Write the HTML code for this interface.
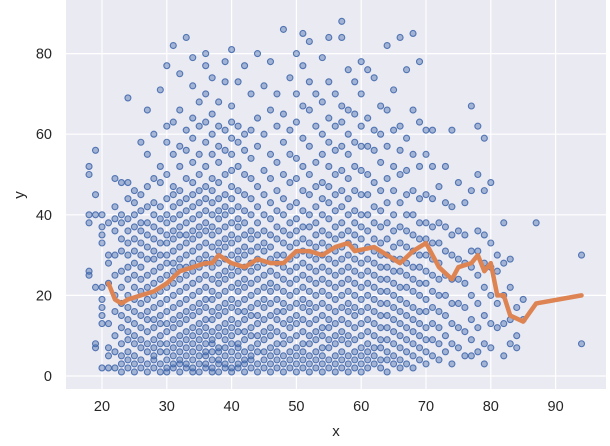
<!DOCTYPE html>
<html><head><meta charset="utf-8"><style>
body{margin:0;background:#fff;width:610px;height:441px;overflow:hidden;font-family:"Liberation Sans",Arial,sans-serif}
svg text{font-family:"Liberation Sans",Arial,sans-serif;fill:#262626}
</style></head><body>
<svg id="chart" width="610" height="441" xmlns="http://www.w3.org/2000/svg">
<rect x="66" y="0" width="540" height="389" fill="#eaeaf2"/>
<g id="grid"></g>
<g id="ticks"></g>
<g id="points"></g>
<g id="line"></g>
<text x="336" y="436" text-anchor="middle" font-size="15">x</text>
<text x="24" y="195" text-anchor="middle" font-size="15" transform="rotate(-90 24 195)">y</text>
</svg>
<script>
const xTicks=[20,30,40,50,60,70,80,90];
const yTicks=[0,20,40,60,80];
const ages=[18,19,20,21,22,23,24,25,26,27,28,29,30,31,32,33,34,35,36,37,38,39,40,41,42,43,44,45,46,47,48,49,50,51,52,53,54,55,56,57,58,59,60,61,62,63,64,65,66,67,68,69,70,71,72,73,74,75,76,77,78,79,80,81,82,83,84,85,87,94];
const yLists=[
[25,26,38,40,50,52],
[7,8,22,40,45,56],
[2,13,15,17,19,22,33,35,37,40],
[2,5,7,13,23,28,30,38],
[2,6,10,16,20,25,30,36,39,42,49],
[1,3,5,8,12,15,18,22,26,31,34,38,40,48],
[2,4,6,9,11,14,17,20,24,27,30,33,36,39,44,48,69],
[1,3,5,8,10,13,16,19,22,25,28,31,34,37,40,43,46],
[2,4,7,9,12,15,18,21,24,27,30,33,36,38,41,45,58],
[1,3,6,8,11,14,16,19,22,25,29,32,35,38,42,47,55,66],
[2,4,5,7,9,12,14,17,20,23,26,29,31,34,37,40,43,49,60],
[1,3,6,8,10,13,15,18,21,24,27,30,33,36,39,42,48,52,71],
[1,2,4,6,8,11,13,16,19,22,25,28,30,33,35,38,40,44,50,58,62,77],
[2,3,5,7,9,12,14,17,20,23,26,28,31,34,36,39,42,45,47,55,63,82],
[1,3,4,6,8,10,13,15,18,21,24,27,29,32,35,37,40,43,46,52,57,66,75],
[2,3,5,7,9,11,14,16,19,22,25,27,30,33,35,38,41,44,49,56,61,84],
[1,2,4,6,8,10,12,15,17,20,23,26,28,31,34,36,39,42,45,48,53,59,64,72,79],
[1,3,5,7,9,11,13,16,18,21,24,27,29,32,35,37,40,43,46,50,55,62,68],
[2,3,5,6,8,10,12,14,17,19,22,25,28,30,33,36,38,41,44,47,52,58,63,70,77,80],
[1,2,4,6,8,9,11,14,16,19,21,24,27,29,32,35,37,40,43,46,49,55,60,65,74],
[1,3,4,6,7,10,12,15,17,20,23,25,28,31,33,36,39,41,44,48,53,57,62,68],
[2,3,5,7,9,11,13,16,18,21,24,26,29,32,34,37,40,42,45,50,56,61,73,78],
[1,2,4,6,8,10,12,14,17,19,22,25,27,30,33,35,38,41,44,47,51,55,59,63,67,81],
[2,3,5,7,8,11,13,16,18,21,23,26,29,31,34,37,39,42,46,52,58,62,73],
[1,3,4,6,9,11,14,16,19,22,24,27,30,32,35,38,41,45,50,56,60,77],
[2,4,5,7,10,12,15,17,20,23,26,28,31,34,36,40,44,49,54,61,70],
[1,3,6,8,10,13,15,18,21,24,27,29,32,35,38,42,47,57,64,80],
[2,4,6,9,11,14,17,19,22,25,28,31,33,36,40,45,51,60,72],
[1,3,5,7,10,12,15,18,21,23,26,29,32,35,39,43,49,55,66,78],
[2,4,6,8,11,14,16,19,22,25,28,30,34,37,41,46,53,62,70],
[1,3,5,8,10,13,16,18,21,24,27,30,33,36,40,44,50,58,65,86],
[2,4,6,9,12,14,17,20,23,26,29,32,35,38,42,48,55,61,74],
[1,3,5,7,10,13,15,18,21,24,27,30,33,36,39,43,49,54,63,70,80],
[2,4,6,8,11,14,17,19,22,25,28,31,34,37,41,46,52,59,67,77,85],
[1,3,5,8,10,13,16,18,21,24,27,30,33,37,40,45,50,57,66,73,83],
[2,4,6,9,11,14,17,20,23,26,29,32,35,38,42,47,53,62,70],
[1,3,5,7,10,12,15,18,21,24,27,30,33,36,40,44,48,55,60,68,79],
[2,4,7,9,12,14,17,20,23,26,29,32,35,39,43,47,52,58,64,73,84],
[1,3,5,8,10,13,16,19,22,25,28,31,34,37,41,45,50,56,62,70],
[2,4,6,9,11,14,17,20,23,26,29,32,35,38,42,46,51,57,63,67,84,88],
[1,3,5,8,10,13,16,18,21,24,27,30,33,36,40,44,49,55,60,66,76],
[2,4,6,9,12,15,17,20,23,26,29,32,35,38,41,46,52,58,65,73],
[1,3,5,7,10,13,16,19,22,25,28,31,34,37,40,45,51,57,62,70,78],
[2,4,6,8,11,14,17,20,23,26,29,32,36,40,45,50,57,64,76],
[3,5,7,10,13,16,19,22,25,28,31,34,38,42,48,56,61,74],
[2,4,7,9,12,15,18,21,24,27,30,33,37,41,46,53,60,67],
[1,4,6,9,12,15,18,21,24,27,30,34,38,43,49,57,66,82],
[3,5,8,11,14,17,20,23,26,29,32,36,40,46,52,61,71],
[2,4,7,10,13,16,19,22,26,29,33,37,43,50,56,62,84],
[3,6,9,12,15,18,22,25,28,32,36,40,45,51,59,76],
[2,5,8,11,14,17,21,24,27,31,35,40,46,55,66,85],
[4,7,10,13,16,20,23,27,30,34,38,44,52,63,78],
[3,6,9,12,16,19,23,26,30,34,38,45,55,61],
[5,9,13,17,21,25,29,33,37,44,52,61],
[4,8,12,16,20,24,28,33,38,47],
[6,10,15,20,25,31,37,43,52],
[3,8,13,18,24,30,35,42,61],
[7,12,18,24,29,36,48],
[5,11,17,23,28,35,43],
[5,9,14,20,27,31,46,67],
[6,12,18,25,31,36,50,62],
[3,8,15,22,28,35,46,59],
[7,13,20,27,33,48],
[12,18,26,30],
[5,13,20,28,38],
[8,14,22,29],
[7,10,17],
[14,19],
[38],
[8,30]];
const lineX=[21,22,23,24,26,28,30,32,34,36,37,38,40,42,44,46,48,50,52,54,56,58,59,62,64,66,68,70,72,74,75,77,78,79,80,81,82,83,85,87,94];
const lineY=[23,19,18,19,20,21,23,26,27,28,28,30,28,27,29,28,28,31,31,30,32,33,31,32,30,28,31,33,27,24,27,28,30,26,28,20,20,15,13.5,18,20];

const X=v=>102+(v-20)*6.48, Y=v=>376-v*4.03;
const NS="http://www.w3.org/2000/svg";
const mk=(t,a,p)=>{const e=document.createElementNS(NS,t);for(const k in a)e.setAttribute(k,a[k]);p.appendChild(e);return e;};
const grid=document.getElementById('grid'),ticks=document.getElementById('ticks');
xTicks.forEach(t=>{
 const l=mk('line',{x1:X(t),x2:X(t),y1:0,y2:389,stroke:'#fff','stroke-width':1.2},grid);
 
 
 const s=mk('text',{x:X(t),y:411,'text-anchor':'middle','font-size':14.5},ticks);s.textContent=t;
 
 
});
yTicks.forEach(t=>{
 const l=mk('line',{x1:66,x2:606,y1:Y(t),y2:Y(t),stroke:'#fff','stroke-width':1.2},grid);
 
 
 const s=mk('text',{x:52,y:Y(t)+5,'text-anchor':'end','font-size':14.5},ticks);s.textContent=t;
 
 
});
const pts=document.getElementById('points');
ages.forEach((a,i)=>yLists[i].forEach(v=>{
 const c=mk('circle',{cx:X(a),cy:Y(v),r:3,fill:'rgba(76,114,176,0.45)',stroke:'rgba(60,100,170,0.85)','stroke-width':1.1},pts);
 
 
}));
const p=mk('path',{d:lineX.map((v,i)=>(i?'L':'M')+X(v)+','+Y(lineY[i])).join(''),fill:'none',stroke:'#dd8452','stroke-width':4.5,'stroke-linejoin':'round','stroke-linecap':'round'},document.getElementById('line'));


</script>
</body></html>
